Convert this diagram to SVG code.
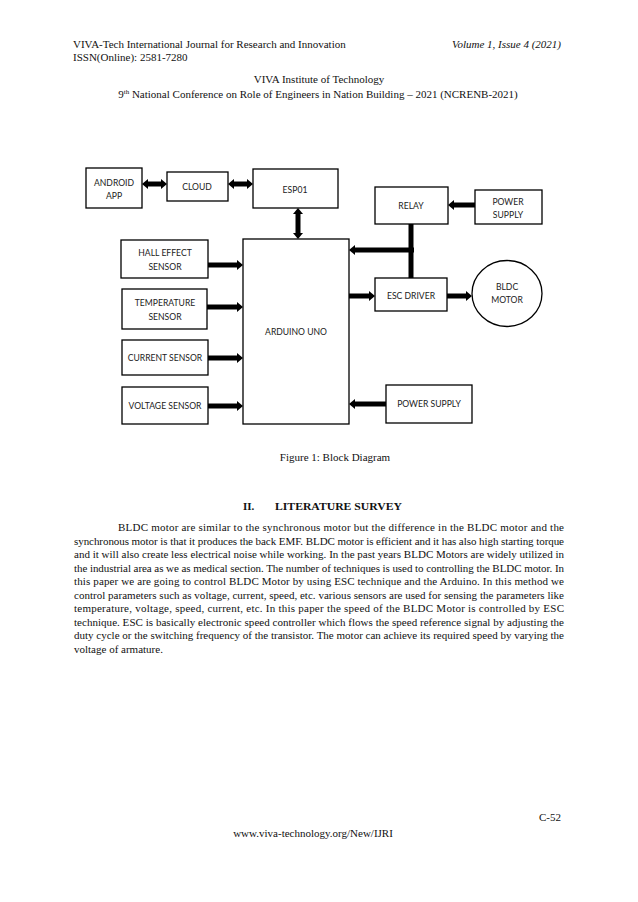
<svg xmlns="http://www.w3.org/2000/svg" width="638" height="902" viewBox="0 0 638 902">
<style>
.pg{font-family:"Liberation Serif","Times New Roman",serif;font-size:11px;fill:#111}
.box{fill:#fff;stroke:#000;stroke-width:1.3}
.lb{font-family:Lato,"Open Sans","Liberation Sans",sans-serif;font-size:8.6px;fill:#222;text-anchor:middle}
.cn{stroke:#000;stroke-width:5;fill:none}
</style>
<defs>
<marker id="ah" markerUnits="userSpaceOnUse" markerWidth="8" markerHeight="12" refX="0" refY="5" orient="auto-start-reverse" overflow="visible">
<path d="M0,0 L6,5 L0,10 z" fill="#000"/>
</marker>
</defs>
<rect width="638" height="902" fill="#fff"/>
<!-- header -->
<text class="pg" x="73" y="48">VIVA-Tech International Journal for Research and Innovation</text>
<text class="pg" x="561" y="48" text-anchor="end" font-style="italic">Volume 1, Issue 4 (2021)</text>
<text class="pg" x="73" y="61">ISSN(Online): 2581-7280</text>
<text class="pg" x="319" y="83" text-anchor="middle">VIVA Institute of Technology</text>
<text class="pg" x="318" y="98" text-anchor="middle">9<tspan font-size="7" dy="-4">th</tspan><tspan dy="4"> National Conference on Role of Engineers in Nation Building – 2021 (NCRENB-2021)</tspan></text>

<!-- connectors -->
<g id="connectors">
<line class="cn" x1="148" y1="184" x2="161" y2="184" marker-start="url(#ah)" marker-end="url(#ah)"/>
<line class="cn" x1="234" y1="184" x2="247" y2="184" marker-start="url(#ah)" marker-end="url(#ah)"/>
<line class="cn" x1="298" y1="214" x2="298" y2="233" marker-start="url(#ah)" marker-end="url(#ah)"/>
<line class="cn" x1="208" y1="265" x2="237" y2="265" marker-end="url(#ah)"/>
<line class="cn" x1="207" y1="307" x2="237" y2="307" marker-end="url(#ah)"/>
<line class="cn" x1="208" y1="358" x2="237" y2="358" marker-end="url(#ah)"/>
<line class="cn" x1="208" y1="406" x2="237" y2="406" marker-end="url(#ah)"/>
<line class="cn" x1="475" y1="205" x2="454" y2="205" marker-end="url(#ah)"/>
<line class="cn" x1="411" y1="224" x2="411" y2="278" stroke-width="6"/>
<line class="cn" x1="414" y1="250" x2="355" y2="250" marker-end="url(#ah)"/>
<line class="cn" x1="349" y1="296" x2="369" y2="296" marker-end="url(#ah)"/>
<line class="cn" x1="447" y1="296" x2="466" y2="296" marker-end="url(#ah)"/>
<line class="cn" x1="386" y1="404" x2="355" y2="404" marker-end="url(#ah)"/>
</g>

<g id="android"><rect class="box" x="86" y="168" width="56" height="40"/><text class="lb" x="114" y="186">ANDROID</text><text class="lb" x="114" y="199">APP</text></g>
<g id="cloud"><rect class="box" x="167" y="172" width="61" height="29"/><text class="lb" x="197" y="190">CLOUD</text></g>
<g id="esp01"><rect class="box" x="253" y="169" width="85" height="39"/><text class="lb" x="295" y="193">ESP01</text></g>
<g id="arduino"><rect class="box" x="243" y="239" width="106" height="185"/><text class="lb" x="296" y="335">ARDUINO UNO</text></g>
<g id="hall"><rect class="box" x="121" y="240" width="87" height="38"/><text class="lb" x="165" y="256">HALL EFFECT</text><text class="lb" x="165" y="270">SENSOR</text></g>
<g id="temp"><rect class="box" x="122" y="289" width="85" height="40"/><text class="lb" x="165" y="306">TEMPERATURE</text><text class="lb" x="165" y="320">SENSOR</text></g>
<g id="current"><rect class="box" x="122" y="340" width="86" height="35"/><text class="lb" x="165" y="361">CURRENT SENSOR</text></g>
<g id="voltage"><rect class="box" x="122" y="387" width="86" height="37"/><text class="lb" x="165" y="409">VOLTAGE SENSOR</text></g>
<g id="relay"><rect class="box" x="375" y="187" width="73" height="37"/><text class="lb" x="411" y="209">RELAY</text></g>
<g id="psu-top"><rect class="box" x="475" y="190" width="67" height="34"/><text class="lb" x="508" y="205">POWER</text><text class="lb" x="508" y="218">SUPPLY</text></g>
<g id="esc"><rect class="box" x="375" y="278" width="72" height="33"/><text class="lb" x="411" y="299">ESC DRIVER</text></g>
<g id="bldc"><ellipse class="box" cx="507" cy="293.5" rx="35" ry="33"/><text class="lb" x="507" y="290">BLDC</text><text class="lb" x="507" y="303">MOTOR</text></g>
<g id="psu-bottom"><rect class="box" x="386" y="385" width="86" height="38"/><text class="lb" x="429" y="407">POWER SUPPLY</text></g>

<!-- caption and section -->
<text class="pg" x="335" y="461" text-anchor="middle">Figure 1: Block Diagram</text>
<text class="pg" x="243" y="510" font-weight="bold" font-size="12">II.</text>
<text class="pg" x="275" y="510" font-weight="bold" font-size="12" textLength="127" lengthAdjust="spacingAndGlyphs">LITERATURE SURVEY</text>

<!-- body -->
<g class="pg">
<text x="118" y="531" textLength="446" lengthAdjust="spacing">BLDC motor are similar to the synchronous motor but the difference in the BLDC motor and the</text>
<text x="74" y="544.5" textLength="490" lengthAdjust="spacing">synchronous motor is that it produces the back EMF. BLDC motor is efficient and it has also high starting torque</text>
<text x="74" y="558" textLength="490" lengthAdjust="spacing">and it will also create less electrical noise while working. In the past years BLDC Motors are widely utilized in</text>
<text x="74" y="571.5" textLength="490" lengthAdjust="spacing">the industrial area as we as medical section. The number of techniques is used to controlling the BLDC motor. In</text>
<text x="74" y="585" textLength="490" lengthAdjust="spacing">this paper we are going to control BLDC Motor by using ESC technique and the Arduino. In this method we</text>
<text x="74" y="598.5" textLength="490" lengthAdjust="spacing">control parameters such as voltage, current, speed, etc. various sensors are used for sensing the parameters like</text>
<text x="74" y="612" textLength="490" lengthAdjust="spacing">temperature, voltage, speed, current, etc. In this paper the speed of the BLDC Motor is controlled by ESC</text>
<text x="74" y="625.5" textLength="490" lengthAdjust="spacing">technique. ESC is basically electronic speed controller which flows the speed reference signal by adjusting the</text>
<text x="74" y="639" textLength="490" lengthAdjust="spacing">duty cycle or the switching frequency of the transistor. The motor can achieve its required speed by varying the</text>
<text x="74" y="652.5">voltage of armature.</text>
</g>

<!-- footer -->
<text class="pg" x="561" y="821" text-anchor="end">C-52</text>
<text class="pg" x="313" y="837" text-anchor="middle">www.viva-technology.org/New/IJRI</text>
</svg>
